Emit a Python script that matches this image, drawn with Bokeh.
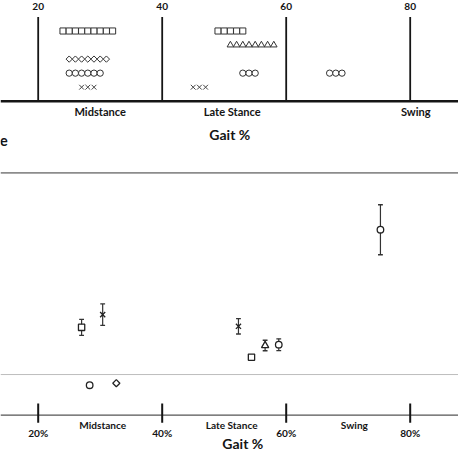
import numpy as np
from bokeh.plotting import figure
from bokeh.layouts import column
from bokeh.models import Range1d
from bokeh.core.properties import value
from bokeh.embed import file_html
from bokeh.resources import INLINE

# ---------------- data ----------------
gait_ticks = [20, 40, 60, 80]
top_tick_labels = ["20", "40", "60", "80"]
bottom_tick_labels = ["20%", "40%", "60%", "80%"]
phase_labels = ["Midstance", "Late Stance", "Swing"]
top_phase_pos = [30.0, 51.3, 80.9]
bottom_phase_pos = [30.4, 51.2, 71.0]
axis_title = "Gait %"
cut_title = "e"

# significant gait % per series (top panel)
sig_square = [24, 25, 26, 27, 28, 29, 30, 31, 32, 49, 50, 51, 52, 53]
sig_triangle = [51, 52, 53, 54, 55, 56, 57, 58]
sig_diamond = [25, 26, 27, 28, 29, 30, 31]
sig_circle = [25, 26, 27, 28, 29, 30, 53, 54, 55, 67, 68, 69]
sig_x = [27, 28, 29, 45, 46, 47]

# peak timing (bottom panel): gait %, value, error
peak_square_x = [27.0, 54.4]
peak_square_y = [0.234, 0.086]
peak_square_err = [0.040, 0.006]
peak_x_x = [30.4, 52.3]
peak_x_y = [0.297, 0.239]
peak_x_err = [0.053, 0.038]
peak_circle_x = [28.3, 58.8, 75.2]
peak_circle_y = [-0.053, 0.148, 0.718]
peak_circle_err = [0.0, 0.029, 0.124]
peak_diamond_x = [32.6]
peak_diamond_y = [-0.043]
peak_diamond_err = [0.0]
peak_triangle_x = [56.6]
peak_triangle_y = [0.144]
peak_triangle_err = [0.026]
ref_lines = [1.0, 0.0]

# ---------------- layout ----------------
S = 458 / 474
W = 458
H_TOP = 155
H_BOT = 303
X0, X1 = 13.92, 87.79
FONT = value("Lato")
INK = "#151515"


def base_fig(h, y0, y1):
    p = figure(width=W, height=h, x_range=Range1d(X0, X1), y_range=Range1d(y0, y1),
               output_backend="svg", toolbar_location=None,
               x_axis_location=None, y_axis_location=None, min_border=0)
    p.grid.visible = False
    p.outline_line_color = None
    p.background_fill_color = "white"
    p.border_fill_color = "white"
    return p


def fs(px):
    return f"{px * S:.1f}px"


# ---------- top panel (rows) ----------
top = base_fig(H_TOP, -3.86, 7.17)
rows = {"square": 5, "triangle": 4, "diamond": 3, "circle": 2, "x": 1}

# vertical gait lines and axis line
top.segment(x0=gait_ticks, y0=[0] * 4, x1=gait_ticks, y1=[6.0] * 4,
            line_color=INK, line_width=1.8)
top.segment(x0=[X0], y0=[0], x1=[X1], y1=[0], line_color=INK, line_width=2.4)

mk = dict(fill_color="white", line_color="#333333", line_width=1)
top.scatter(sig_square, [rows["square"]] * len(sig_square), marker="square", size=6.3 * S, **mk)
top.scatter(sig_triangle, [rows["triangle"]] * len(sig_triangle), marker="triangle", size=6.8 * S, **mk)
top.scatter(sig_diamond, [rows["diamond"]] * len(sig_diamond), marker="square", angle=np.pi / 4,
            size=4.6 * S, **mk)
top.scatter(sig_circle, [rows["circle"]] * len(sig_circle), marker="circle", size=6.5 * S, **mk)
top.scatter(sig_x, [rows["x"]] * len(sig_x), marker="x", size=7 * S, line_color="#444444",
            line_width=1)

top.text(gait_ticks, [6.76] * 4, text=top_tick_labels, text_font=FONT, text_font_style="bold",
         text_font_size=fs(10.5), text_align="center", text_baseline="middle", text_color=INK)
top.text(top_phase_pos, [-0.76] * 3, text=phase_labels, text_font=FONT, text_font_style="bold",
         text_font_size=fs(11.5), text_align="center", text_baseline="middle", text_color=INK)
top.text([50.9], [-2.34], text=[axis_title], text_font=FONT, text_font_style="bold",
         text_font_size=fs(14.5), text_align="center", text_baseline="middle", text_color=INK)
top.text([15.1], [-2.76], text=[cut_title], text_font=FONT, text_font_style="bold",
         text_font_size=fs(15), text_align="right", text_baseline="middle", text_color=INK)

# ---------- bottom panel (values) ----------
bot = base_fig(H_BOT, -0.4163, 1.0861)
bot.segment(x0=[X0], y0=[ref_lines[0]], x1=[X1], y1=[ref_lines[0]], line_color="#8c8c8c", line_width=1.6)
bot.segment(x0=[X0], y0=[ref_lines[1]], x1=[X1], y1=[ref_lines[1]], line_color="#bdbdbd", line_width=1)

# gait axis
bot.segment(x0=[X0], y0=[-0.201], x1=[X1], y1=[-0.201], line_color="#555555", line_width=1.2)
bot.segment(x0=gait_ticks, y0=[-0.1435] * 4, x1=gait_ticks, y1=[-0.239] * 4,
            line_color=INK, line_width=2)
bot.text(gait_ticks, [-0.292] * 4, text=bottom_tick_labels, text_font=FONT, text_font_style="bold",
         text_font_size=fs(10.5), text_align="center", text_baseline="middle", text_color=INK)
bot.text(bottom_phase_pos, [-0.249] * 3, text=phase_labels, text_font=FONT, text_font_style="bold",
         text_font_size=fs(10.5), text_align="center", text_baseline="middle", text_color=INK)
bot.text([53.0], [-0.344], text=[axis_title], text_font=FONT, text_font_style="bold",
         text_font_size=fs(14.5), text_align="center", text_baseline="middle", text_color=INK)

series = [
    (peak_square_x, peak_square_y, peak_square_err, dict(marker="square", size=6.5 * S)),
    (peak_x_x, peak_x_y, peak_x_err, dict(marker="x", size=7.5 * S)),
    (peak_circle_x, peak_circle_y, peak_circle_err, dict(marker="circle", size=6.8 * S)),
    (peak_diamond_x, peak_diamond_y, peak_diamond_err, dict(marker="square", angle=np.pi / 4, size=5.2 * S)),
    (peak_triangle_x, peak_triangle_y, peak_triangle_err, dict(marker="triangle", size=7.5 * S)),
]
for xs, ys, es, m in series:
    xe = [x for x, e in zip(xs, es) if e > 0.01]
    ye = [y for y, e in zip(ys, es) if e > 0.01]
    ee = [e for e in es if e > 0.01]
    if xe:
        up = [y + e for y, e in zip(ye, ee)]
        lo = [y - e for y, e in zip(ye, ee)]
        bot.segment(x0=xe, y0=lo, x1=xe, y1=up, line_color="#333333", line_width=1.2)
        bot.scatter(xe + xe, up + lo, marker="dash", size=5 * S, line_color="#333333", line_width=1.3)
for xs, ys, es, m in series:
    bot.scatter(xs, ys, fill_color="white", line_color="#222222", line_width=1.3, **m)

layout = column(top, bot, spacing=0)
open("out.html", "w").write(file_html(layout, INLINE))
